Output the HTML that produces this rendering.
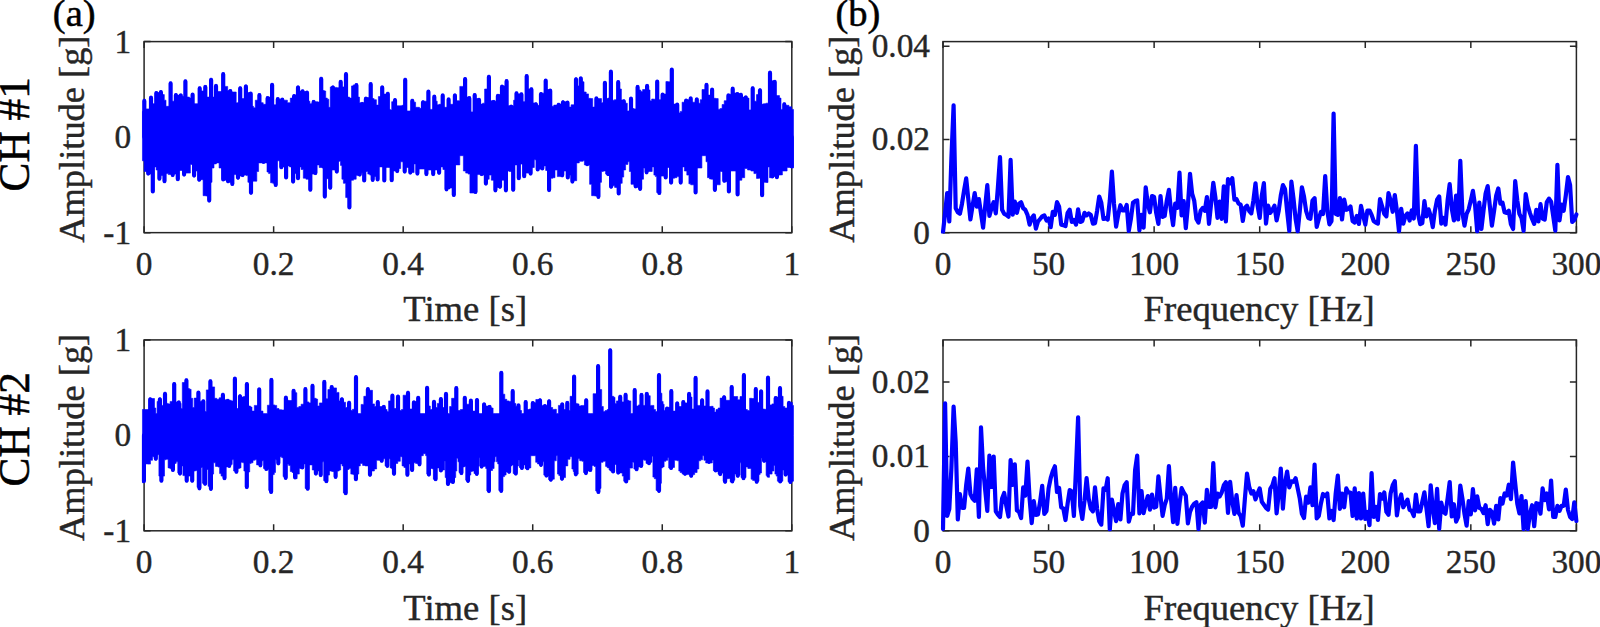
<!DOCTYPE html>
<html><head><meta charset="utf-8"><title>Figure</title>
<style>html,body{margin:0;padding:0;background:#fff}svg{display:block}text{font-family:"Liberation Serif",serif}</style></head><body>
<svg width="1600" height="627" viewBox="0 0 1600 627">
<rect width="1600" height="627" fill="#fff"/>
<g fill="#262626" stroke="#262626" stroke-width="0.4">
<g id="a1">
<clipPath id="ca1"><rect x="141.60" y="40.60" width="652.70" height="192.85"/></clipPath>
<rect x="144.10" y="41.60" width="647.70" height="191.05" fill="none" stroke="#262626" stroke-width="1.5"/>
<path d="M144.10 232.65v-6.5M144.10 41.60v6.5M273.64 232.65v-6.5M273.64 41.60v6.5M403.18 232.65v-6.5M403.18 41.60v6.5M532.72 232.65v-6.5M532.72 41.60v6.5M662.26 232.65v-6.5M662.26 41.60v6.5M791.80 232.65v-6.5M791.80 41.60v6.5M144.10 232.65h6.5M791.80 232.65h-6.5M144.10 137.12h6.5M791.80 137.12h-6.5M144.10 41.60h6.5M791.80 41.60h-6.5" stroke="#262626" stroke-width="1.5" fill="none"/>
<text x="144.10" y="275.30" font-size="33.33" text-anchor="middle">0</text>
<text x="273.64" y="275.30" font-size="33.33" text-anchor="middle">0.2</text>
<text x="403.18" y="275.30" font-size="33.33" text-anchor="middle">0.4</text>
<text x="532.72" y="275.30" font-size="33.33" text-anchor="middle">0.6</text>
<text x="662.26" y="275.30" font-size="33.33" text-anchor="middle">0.8</text>
<text x="791.80" y="275.30" font-size="33.33" text-anchor="middle">1</text>
<text x="131.10" y="243.65" font-size="33.33" text-anchor="end">-1</text>
<text x="131.10" y="148.12" font-size="33.33" text-anchor="end">0</text>
<text x="131.10" y="52.60" font-size="33.33" text-anchor="end">1</text>
<text x="465.25" y="321.35" font-size="36.67" text-anchor="middle">Time [s]</text>
<text transform="translate(84.20 139.12) rotate(-90)" font-size="36.4" text-anchor="middle">Amplitude [g]</text>
<polygon clip-path="url(#ca1)" points="142.4,137.1 142.4,111.4 143.3,111.4 143.3,99.2 145.3,99.2 145.3,108.9 150.0,108.9 150.0,96.1 152.0,96.1 152.0,103.7 155.3,103.7 155.3,91.5 157.3,91.5 157.3,92.5 159.9,92.5 159.9,90.5 161.9,90.5 161.9,94.6 164.3,94.6 164.3,100.2 166.0,100.2 166.0,106.3 169.6,106.3 169.6,81.8 171.6,81.8 171.6,101.2 174.9,101.2 174.9,93.5 176.9,93.5 176.9,95.1 179.8,95.1 179.8,93.9 181.8,93.9 181.8,96.6 184.4,96.6 184.4,79.8 186.4,79.8 186.4,97.1 189.5,97.1 189.5,98.1 191.6,98.1 191.6,93.0 193.6,93.0 193.6,103.7 198.7,103.7 198.7,86.7 200.7,86.7 200.7,91.0 204.3,91.0 204.3,85.4 206.3,85.4 206.3,97.1 210.1,97.1 210.1,78.2 212.1,78.2 212.1,97.1 215.0,97.1 215.0,84.4 217.0,84.4 217.0,91.5 222.2,91.5 222.2,72.6 224.2,72.6 224.2,86.4 227.7,86.4 227.7,90.5 229.4,90.5 229.4,89.5 231.3,89.5 231.3,92.0 233.8,92.0 233.8,92.0 236.2,92.0 236.2,102.7 239.2,102.7 239.2,86.7 241.2,86.7 241.2,98.6 244.9,98.6 244.9,84.9 246.9,84.9 246.9,92.5 249.7,92.5 249.7,92.0 251.7,92.0 251.7,106.3 253.5,106.3 253.5,107.8 255.3,107.8 255.3,100.2 258.4,100.2 258.4,93.5 260.4,93.5 260.4,102.7 263.2,102.7 263.2,104.3 266.6,104.3 266.6,96.6 268.6,96.6 268.6,97.1 271.1,97.1 271.1,83.3 273.1,83.3 273.1,104.8 276.8,104.8 276.8,97.6 278.8,97.6 278.8,99.2 281.3,99.2 281.3,98.1 283.3,98.1 283.3,100.2 287.4,100.2 287.4,102.7 290.3,102.7 290.3,98.1 293.1,98.1 293.1,94.6 295.1,94.6 295.1,95.1 297.1,95.1 297.1,85.9 299.0,85.9 299.0,91.0 301.6,91.0 301.6,89.8 303.6,89.8 303.6,91.5 306.0,91.5 306.0,91.0 308.0,91.0 308.0,101.2 309.9,101.2 309.9,103.7 312.6,103.7 312.6,100.4 314.6,100.4 314.6,101.7 317.8,101.7 317.8,102.0 320.2,102.0 320.2,77.2 322.2,77.2 322.2,90.5 324.3,90.5 324.3,91.0 325.7,91.0 325.7,98.1 327.3,98.1 327.3,99.2 328.8,99.2 328.8,107.3 330.3,107.3 330.3,86.9 332.1,86.9 332.1,85.9 333.9,85.9 333.9,87.4 336.9,87.4 336.9,87.7 339.7,87.7 339.7,80.3 341.7,80.3 341.7,86.9 345.0,86.9 345.0,72.6 347.0,72.6 347.0,97.1 349.6,97.1 349.6,98.1 351.5,98.1 351.5,85.9 353.2,85.9 353.2,84.9 355.4,84.9 355.4,83.6 357.4,83.6 357.4,97.1 359.5,97.1 359.5,102.7 361.4,102.7 361.4,102.4 363.1,102.4 363.1,103.2 364.9,103.2 364.9,97.1 366.9,97.1 366.9,97.6 369.7,97.6 369.7,82.6 371.7,82.6 371.7,98.6 374.1,98.6 374.1,99.7 376.4,99.7 376.4,105.1 378.4,105.1 378.4,96.6 381.2,96.6 381.2,85.9 383.2,85.9 383.2,94.1 386.8,94.1 386.8,92.2 388.8,92.2 388.8,109.4 390.5,109.4 390.5,109.9 391.7,109.9 391.7,101.7 394.0,101.7 394.0,98.6 396.0,98.6 396.0,105.8 399.3,105.8 399.3,105.8 401.9,105.8 401.9,105.3 404.2,105.3 404.2,78.2 406.2,78.2 406.2,110.9 408.5,110.9 408.5,110.9 411.3,110.9 411.3,99.2 413.3,99.2 413.3,102.2 415.6,102.2 415.6,107.3 417.4,107.3 417.4,107.3 419.5,107.3 419.5,108.3 422.0,108.3 422.0,100.7 424.0,100.7 424.0,101.2 427.4,101.2 427.4,90.0 429.4,90.0 429.4,109.4 433.3,109.4 433.3,95.1 435.3,95.1 435.3,101.2 437.2,101.2 437.2,104.8 438.9,104.8 438.9,104.3 441.7,104.3 441.7,93.9 443.7,93.9 443.7,107.3 447.6,107.3 447.6,97.9 449.6,97.9 449.6,104.3 451.8,104.3 451.8,104.3 453.9,104.3 453.9,93.9 455.9,93.9 455.9,100.7 459.8,100.7 459.8,86.4 464.1,86.4 464.1,77.5 466.1,77.5 466.1,97.1 468.3,97.1 468.3,96.6 470.3,96.6 470.3,111.9 473.7,111.9 473.7,93.5 475.7,93.5 475.7,98.6 478.0,98.6 478.0,98.3 480.0,98.3 480.0,104.1 482.6,104.1 482.6,103.2 484.6,103.2 484.6,89.0 487.9,89.0 487.9,75.2 489.9,75.2 489.9,100.7 492.6,100.7 492.6,100.4 494.6,100.4 494.6,101.2 496.9,101.2 496.9,94.3 498.8,94.3 498.8,94.6 501.0,94.6 501.0,85.1 503.0,85.1 503.0,85.9 505.6,85.9 505.6,79.6 507.6,79.6 507.6,105.8 510.2,105.8 510.2,105.1 512.1,105.1 512.1,105.8 513.6,105.8 513.6,100.2 515.5,100.2 515.5,91.8 517.5,91.8 517.5,93.9 520.4,93.9 520.4,92.8 522.4,92.8 522.4,101.7 525.7,101.7 525.7,74.5 527.7,74.5 527.7,89.0 530.4,89.0 530.4,87.7 532.4,87.7 532.4,103.0 534.9,103.0 534.9,102.7 536.9,102.7 536.9,105.3 540.0,105.3 540.0,92.5 542.0,92.5 542.0,93.2 544.7,93.2 544.7,79.0 546.7,79.0 546.7,89.5 549.2,89.5 549.2,89.0 551.2,89.0 551.2,106.3 553.8,106.3 553.8,105.1 557.6,105.1 557.6,103.2 559.6,103.2 559.6,104.1 562.0,104.1 562.0,100.7 564.0,100.7 564.0,101.7 566.5,101.7 566.5,101.0 568.5,101.0 568.5,107.1 571.1,107.1 571.1,104.8 575.0,104.8 575.0,77.7 577.0,77.7 577.0,85.9 579.8,85.9 579.8,76.9 581.8,76.9 581.8,81.8 584.0,81.8 584.0,92.0 586.2,92.0 586.2,93.9 588.5,93.9 588.5,98.3 590.5,98.3 590.5,98.6 592.7,98.6 592.7,107.1 595.4,107.1 595.4,96.9 597.4,96.9 597.4,98.6 599.7,98.6 599.7,98.6 601.5,98.6 601.5,102.7 603.9,102.7 603.9,81.3 605.9,81.3 605.9,98.6 607.8,98.6 607.8,98.1 609.9,98.1 609.9,70.1 611.9,70.1 611.9,100.2 614.4,100.2 614.4,99.7 617.2,99.7 617.2,80.6 619.2,80.6 619.2,89.0 621.4,89.0 621.4,100.0 622.9,100.0 622.9,99.7 624.8,99.7 624.8,103.2 627.3,103.2 627.3,110.9 630.0,110.9 630.0,97.1 632.0,97.1 632.0,108.5 634.1,108.5 634.1,108.9 636.6,108.9 636.6,85.4 638.6,85.4 638.6,90.0 640.8,90.0 640.8,91.5 642.6,91.5 642.6,89.5 646.1,89.5 646.1,84.4 648.1,84.4 648.1,90.0 650.0,90.0 650.0,100.7 651.7,100.7 651.7,99.0 653.7,99.0 653.7,99.2 656.2,99.2 656.2,80.0 658.2,80.0 658.2,99.7 661.6,99.7 661.6,93.0 663.6,93.0 663.6,94.1 665.9,94.1 665.9,81.6 668.2,81.6 668.2,81.8 670.8,81.8 670.8,68.0 672.8,68.0 672.8,104.1 676.2,104.1 676.2,103.0 678.2,103.0 678.2,112.9 680.2,112.9 680.2,111.4 682.1,111.4 682.1,102.2 685.1,102.2 685.1,99.0 687.1,99.0 687.1,99.7 689.7,99.7 689.7,96.9 691.7,96.9 691.7,102.2 695.8,102.2 695.8,97.9 697.8,97.9 697.8,103.2 700.2,103.2 700.2,99.7 702.0,99.7 702.0,89.5 705.5,89.5 705.5,83.3 707.5,83.3 707.5,95.1 711.1,95.1 711.1,88.1 713.1,88.1 713.1,98.3 715.8,98.3 715.8,98.6 718.2,98.6 718.2,109.2 720.2,109.2 720.2,108.5 722.1,108.5 722.1,104.5 724.2,104.5 724.2,100.7 727.4,100.7 727.4,93.9 729.4,93.9 729.4,94.3 731.7,94.3 731.7,87.1 733.7,87.1 733.7,93.0 736.4,93.0 736.4,92.5 738.3,92.5 738.3,93.5 740.0,93.5 740.0,93.2 741.9,93.2 741.9,97.1 744.8,97.1 744.8,95.9 746.8,95.9 746.8,98.1 749.0,98.1 749.0,109.9 751.7,109.9 751.7,86.7 753.7,86.7 753.7,101.2 756.5,101.2 756.5,94.6 759.0,94.6 759.0,88.7 761.0,88.7 761.0,104.3 762.4,104.3 762.4,104.1 763.6,104.1 763.6,103.7 764.9,103.7 764.9,103.7 765.9,103.7 765.9,103.2 769.0,103.2 769.0,71.1 771.0,71.1 771.0,80.8 773.7,80.8 773.7,80.3 775.7,80.3 775.7,95.6 777.7,95.6 777.7,95.6 779.5,95.6 779.5,98.1 781.0,98.1 781.0,109.4 783.3,109.4 783.3,102.7 785.3,102.7 785.3,105.3 788.9,105.3 788.9,106.8 791.7,106.8 791.7,109.4 793.5,109.4 793.5,137.1 793.5,168.0 790.7,168.0 790.7,167.5 787.1,167.5 787.1,171.0 784.8,171.0 784.8,171.0 782.4,171.0 782.4,174.9 780.1,174.9 780.1,175.1 777.9,175.1 777.9,178.7 775.9,178.7 775.9,176.6 773.3,176.6 773.3,178.0 771.3,178.0 771.3,177.7 769.5,177.7 769.5,166.9 768.0,166.9 768.0,182.5 765.6,182.5 765.6,182.3 763.1,182.3 763.1,196.7 761.1,196.7 761.1,178.2 758.7,178.2 758.7,178.4 756.5,178.4 756.5,173.6 753.9,173.6 753.9,171.0 750.9,171.0 750.9,170.0 747.5,170.0 747.5,168.5 744.7,168.5 744.7,177.7 741.9,177.7 741.9,180.2 738.6,180.2 738.6,196.0 736.6,196.0 736.6,171.0 733.3,171.0 733.3,171.0 729.9,171.0 729.9,193.0 727.9,193.0 727.9,181.7 725.3,181.7 725.3,182.3 723.3,182.3 723.3,171.5 720.2,171.5 720.2,184.8 718.2,184.8 718.2,184.8 715.9,184.8 715.9,191.4 713.9,191.4 713.9,179.2 711.3,179.2 711.3,179.0 709.5,179.0 709.5,177.7 707.5,177.7 707.5,161.8 706.0,161.8 706.0,155.7 704.2,155.7 704.2,155.7 701.9,155.7 701.9,168.0 699.6,168.0 699.6,168.0 696.6,168.0 696.6,194.0 694.6,194.0 694.6,184.8 690.7,184.8 690.7,183.8 688.9,183.8 688.9,175.1 686.8,175.1 686.8,171.0 684.4,171.0 684.4,166.9 681.7,166.9 681.7,184.1 679.7,184.1 679.7,176.6 676.9,176.6 676.9,177.7 674.7,177.7 674.7,178.2 672.1,178.2 672.1,184.1 670.1,184.1 670.1,167.5 666.7,167.5 666.7,179.0 664.7,179.0 664.7,176.1 660.3,176.1 660.3,194.5 658.3,194.5 658.3,192.5 656.7,192.5 656.7,176.6 655.4,176.6 655.4,175.1 653.9,175.1 653.9,166.9 652.2,166.9 652.2,171.5 649.9,171.5 649.9,171.5 647.6,171.5 647.6,173.9 645.6,173.9 645.6,168.0 643.5,168.0 643.5,179.2 641.1,179.2 641.1,190.4 639.1,190.4 639.1,187.4 636.6,187.4 636.6,187.9 634.6,187.9 634.6,184.3 631.0,184.3 631.0,171.5 629.4,171.5 629.4,161.8 627.9,161.8 627.9,164.4 625.6,164.4 625.6,170.0 623.7,170.0 623.7,177.1 622.2,177.1 622.2,183.3 619.7,183.3 619.7,195.0 617.7,195.0 617.7,187.4 614.6,187.4 614.6,185.8 612.1,185.8 612.1,188.2 610.1,188.2 610.1,175.1 608.3,175.1 608.3,175.6 607.3,175.6 607.3,174.1 605.6,174.1 605.6,171.0 603.3,171.0 603.3,171.5 601.5,171.5 601.5,182.3 599.4,182.3 599.4,198.4 597.4,198.4 597.4,196.0 594.6,196.0 594.6,195.7 591.6,195.7 591.6,184.3 589.6,184.3 589.6,164.9 588.2,164.9 588.2,165.7 586.2,165.7 586.2,164.9 584.4,164.9 584.4,160.8 582.9,160.8 582.9,161.3 579.3,161.3 579.3,162.9 576.7,162.9 576.7,180.7 573.4,180.7 573.4,183.1 571.4,183.1 571.4,175.1 568.8,175.1 568.8,179.0 566.8,179.0 566.8,171.0 563.2,171.0 563.2,176.9 561.2,176.9 561.2,176.6 557.3,176.6 557.3,170.0 555.0,170.0 555.0,177.7 553.0,177.7 553.0,178.2 550.1,178.2 550.1,191.6 548.1,191.6 548.1,170.5 545.7,170.5 545.7,165.9 543.3,165.9 543.3,170.0 541.3,170.0 541.3,169.0 538.7,169.0 538.7,171.0 536.7,171.0 536.7,159.8 534.3,159.8 534.3,167.5 531.6,167.5 531.6,175.1 529.6,175.1 529.6,173.1 525.2,173.1 525.2,177.7 523.2,177.7 523.2,164.1 519.8,164.1 519.8,179.7 517.8,179.7 517.8,164.9 514.2,164.9 514.2,191.2 512.2,191.2 512.2,171.5 509.2,171.5 509.2,171.0 506.9,171.0 506.9,191.9 504.9,191.9 504.9,180.2 501.0,180.2 501.0,188.2 499.0,188.2 499.0,187.4 496.4,187.4 496.4,191.9 494.4,191.9 494.4,180.2 491.3,180.2 491.3,175.1 489.2,175.1 489.2,179.2 486.9,179.2 486.9,185.1 484.9,185.1 484.9,175.1 482.6,175.1 482.6,175.6 480.6,175.6 480.6,174.6 476.5,174.6 476.5,193.5 474.5,193.5 474.5,193.0 469.9,193.0 469.9,174.1 468.1,174.1 468.1,173.1 465.7,173.1 465.7,171.0 463.4,171.0 463.4,155.7 461.8,155.7 461.8,155.7 459.8,155.7 459.8,164.9 457.5,164.9 457.5,164.9 454.8,164.9 454.8,196.5 452.8,196.5 452.8,187.9 450.0,187.9 450.0,188.9 447.5,188.9 447.5,190.9 445.5,190.9 445.5,169.5 442.9,169.5 442.9,166.9 440.1,166.9 440.1,174.3 438.1,174.3 438.1,170.0 434.2,170.0 434.2,175.6 432.2,175.6 432.2,170.0 427.4,170.0 427.4,175.6 425.4,175.6 425.4,169.0 421.8,169.0 421.8,169.0 418.4,169.0 418.4,175.1 416.4,175.1 416.4,163.9 414.1,163.9 414.1,172.6 411.3,172.6 411.3,174.1 409.3,174.1 409.3,167.5 405.7,167.5 405.7,173.1 403.7,173.1 403.7,161.8 400.7,161.8 400.7,168.5 398.2,168.5 398.2,172.6 396.2,172.6 396.2,171.0 392.7,171.0 392.7,181.7 390.7,181.7 390.7,167.5 387.8,167.5 387.8,167.5 385.3,167.5 385.3,182.0 383.3,182.0 383.3,166.9 380.9,166.9 380.9,166.9 378.6,166.9 378.6,181.0 376.6,181.0 376.6,176.6 373.7,176.6 373.7,181.4 371.7,181.4 371.7,175.1 369.7,175.1 369.7,174.1 367.8,174.1 367.8,171.5 365.2,171.5 365.2,182.0 363.2,182.0 363.2,172.6 360.6,172.6 360.6,176.1 358.8,176.1 358.8,175.6 356.2,175.6 356.2,179.2 353.6,179.2 353.6,180.2 350.4,180.2 350.4,209.0 348.4,209.0 348.4,197.6 345.7,197.6 345.7,183.3 343.4,183.3 343.4,179.2 341.9,179.2 341.9,165.4 340.5,165.4 340.5,161.3 337.8,161.3 337.8,173.1 335.8,173.1 335.8,170.0 331.2,170.0 331.2,189.2 329.2,189.2 329.2,178.7 325.8,178.7 325.8,198.1 323.8,198.1 323.8,168.0 321.9,168.0 321.9,167.5 319.2,167.5 319.2,164.9 316.4,164.9 316.4,174.6 314.4,174.6 314.4,174.1 311.3,174.1 311.3,191.2 309.3,191.2 309.3,179.2 305.9,179.2 305.9,178.2 303.3,178.2 303.3,169.5 301.1,169.5 301.1,166.9 299.0,166.9 299.0,179.7 297.0,179.7 297.0,173.6 294.1,173.6 294.1,183.1 292.1,183.1 292.1,166.9 289.5,166.9 289.5,165.9 287.1,165.9 287.1,179.0 285.1,179.0 285.1,166.9 282.3,166.9 282.3,168.8 280.3,168.8 280.3,160.8 276.7,160.8 276.7,186.5 274.7,186.5 274.7,183.3 272.7,183.3 272.7,182.8 270.6,182.8 270.6,173.6 268.6,173.6 268.6,172.0 267.0,172.0 267.0,162.9 264.5,162.9 264.5,163.4 262.5,163.4 262.5,162.9 258.6,162.9 258.6,171.5 256.8,171.5 256.8,181.2 254.5,181.2 254.5,181.2 252.0,181.2 252.0,194.3 250.0,194.3 250.0,182.3 247.9,182.3 247.9,175.6 246.1,175.6 246.1,175.1 243.6,175.1 243.6,176.6 241.6,176.6 241.6,176.1 239.0,176.1 239.0,179.2 237.0,179.2 237.0,174.6 233.3,174.6 233.3,185.5 231.3,185.5 231.3,182.3 229.0,182.3 229.0,182.8 227.0,182.8 227.0,180.2 224.2,180.2 224.2,181.0 222.2,181.0 222.2,168.0 219.1,168.0 219.1,162.9 216.4,162.9 216.4,163.9 214.0,163.9 214.0,168.0 212.0,168.0 212.0,182.3 210.2,182.3 210.2,202.1 208.2,202.1 208.2,196.0 205.7,196.0 205.7,195.7 203.1,195.7 203.1,179.7 200.2,179.7 200.2,181.2 198.2,181.2 198.2,171.0 195.1,171.0 195.1,177.1 193.1,177.1 193.1,164.4 190.4,164.4 190.4,173.1 188.1,173.1 188.1,173.1 185.1,173.1 185.1,176.1 183.1,176.1 183.1,170.5 178.8,170.5 178.8,180.7 176.8,180.7 176.8,174.1 173.7,174.1 173.7,176.6 171.7,176.6 171.7,174.6 168.3,174.6 168.3,173.6 165.5,173.6 165.5,182.8 163.5,182.8 163.5,175.6 160.4,175.6 160.4,180.2 158.4,180.2 158.4,170.0 156.1,170.0 156.1,166.9 153.8,166.9 153.8,193.0 151.8,193.0 151.8,174.1 149.2,174.1 149.2,175.1 147.2,175.1 147.2,171.5 144.1,171.5 144.1,160.8 142.4,160.8" fill="#0000ff" stroke="#0000ff" stroke-width="0.6" stroke-linejoin="round"/>
<path clip-path="url(#ca1)" d="M144.3 137.1V101.0M148.2 137.1V173.3M151.0 137.1V97.9M152.8 137.1V191.2M156.3 137.1V93.3M159.4 137.1V178.4M160.9 137.1V92.3M164.5 137.1V181.0M170.6 137.1V83.6M172.7 137.1V174.8M175.9 137.1V95.3M177.8 137.1V178.9M180.8 137.1V95.7M184.1 137.1V174.3M185.4 137.1V81.6M192.6 137.1V94.8M194.1 137.1V175.3M199.2 137.1V179.4M199.7 137.1V88.5M205.3 137.1V87.2M209.2 137.1V200.3M211.1 137.1V80.0M216.0 137.1V86.2M223.2 137.1V74.4M223.2 137.1V179.2M228.0 137.1V181.0M230.3 137.1V91.3M232.3 137.1V183.7M238.0 137.1V177.4M240.2 137.1V88.5M242.6 137.1V174.8M245.9 137.1V86.7M250.7 137.1V93.8M251.0 137.1V192.5M259.4 137.1V95.3M263.5 137.1V161.6M267.6 137.1V98.4M272.1 137.1V85.1M275.7 137.1V184.7M277.8 137.1V99.4M281.3 137.1V167.0M282.3 137.1V99.9M286.1 137.1V177.2M293.1 137.1V181.3M294.1 137.1V96.4M298.0 137.1V87.7M298.0 137.1V177.9M302.6 137.1V91.6M307.0 137.1V92.8M310.3 137.1V189.4M313.6 137.1V102.2M315.4 137.1V172.8M321.2 137.1V79.0M324.8 137.1V196.3M330.2 137.1V187.4M332.9 137.1V87.7M336.8 137.1V171.3M340.7 137.1V82.1M346.0 137.1V74.4M349.4 137.1V207.2M356.4 137.1V85.4M359.8 137.1V174.3M362.3 137.1V104.2M364.2 137.1V180.2M365.9 137.1V98.9M370.7 137.1V84.4M372.7 137.1V179.6M377.6 137.1V179.2M382.2 137.1V87.7M384.3 137.1V180.2M387.8 137.1V94.0M391.7 137.1V179.9M395.0 137.1V100.4M397.2 137.1V170.8M404.7 137.1V171.3M405.2 137.1V80.0M410.3 137.1V172.3M412.3 137.1V101.0M417.4 137.1V173.3M423.0 137.1V102.5M426.4 137.1V173.8M428.4 137.1V91.8M433.2 137.1V173.8M434.3 137.1V96.9M439.1 137.1V172.5M442.7 137.1V95.7M446.5 137.1V189.1M448.6 137.1V99.7M453.8 137.1V194.7M454.9 137.1V95.7M465.1 137.1V79.3M469.3 137.1V98.4M474.7 137.1V95.3M475.5 137.1V191.7M479.0 137.1V100.1M481.6 137.1V173.8M485.9 137.1V183.3M488.9 137.1V77.0M493.6 137.1V102.2M495.4 137.1V190.1M497.9 137.1V96.1M500.0 137.1V186.4M502.0 137.1V86.9M505.9 137.1V190.1M506.6 137.1V81.4M511.2 137.1V106.9M513.2 137.1V189.4M516.5 137.1V93.6M518.8 137.1V177.9M521.4 137.1V94.6M524.2 137.1V175.9M526.7 137.1V76.3M530.6 137.1V173.3M531.4 137.1V89.5M535.9 137.1V104.5M537.7 137.1V169.2M541.0 137.1V94.3M542.3 137.1V168.2M545.7 137.1V80.8M549.1 137.1V189.8M550.2 137.1V90.8M558.6 137.1V105.0M562.2 137.1V175.1M563.0 137.1V102.5M567.5 137.1V102.8M567.8 137.1V177.2M572.4 137.1V181.3M576.0 137.1V79.5M580.8 137.1V78.7M587.2 137.1V163.9M596.4 137.1V98.7M598.4 137.1V196.6M604.9 137.1V83.1M608.0 137.1V173.8M610.9 137.1V71.9M611.1 137.1V186.4M618.2 137.1V82.4M618.7 137.1V193.2M623.8 137.1V101.5M631.0 137.1V98.9M635.6 137.1V186.1M637.6 137.1V87.2M640.1 137.1V188.6M646.6 137.1V172.1M647.1 137.1V86.2M657.2 137.1V81.8M659.3 137.1V192.7M662.6 137.1V94.8M665.7 137.1V177.2M671.1 137.1V182.3M671.8 137.1V69.8M677.2 137.1V104.8M680.7 137.1V182.3M686.1 137.1V100.8M690.7 137.1V98.7M695.6 137.1V192.2M696.8 137.1V99.7M706.5 137.1V85.1M712.1 137.1V89.9M714.9 137.1V189.6M724.3 137.1V180.5M728.4 137.1V95.7M728.9 137.1V191.2M732.7 137.1V88.9M737.4 137.1V94.3M737.6 137.1V194.2M740.9 137.1V95.0M745.8 137.1V97.7M752.7 137.1V88.5M760.0 137.1V90.5M762.1 137.1V194.9M770.0 137.1V72.9M772.3 137.1V176.2M774.7 137.1V82.1M776.9 137.1V176.9M784.3 137.1V104.5M791.7 137.1V166.2" fill="none" stroke="#0000ff" stroke-width="4.2" stroke-linecap="round"/>
</g>
<g id="a2">
<clipPath id="ca2"><rect x="141.60" y="338.90" width="652.70" height="192.70"/></clipPath>
<rect x="144.10" y="339.90" width="647.70" height="190.90" fill="none" stroke="#262626" stroke-width="1.5"/>
<path d="M144.10 530.80v-6.5M144.10 339.90v6.5M273.64 530.80v-6.5M273.64 339.90v6.5M403.18 530.80v-6.5M403.18 339.90v6.5M532.72 530.80v-6.5M532.72 339.90v6.5M662.26 530.80v-6.5M662.26 339.90v6.5M791.80 530.80v-6.5M791.80 339.90v6.5M144.10 530.80h6.5M791.80 530.80h-6.5M144.10 435.35h6.5M791.80 435.35h-6.5M144.10 339.90h6.5M791.80 339.90h-6.5" stroke="#262626" stroke-width="1.5" fill="none"/>
<text x="144.10" y="573.45" font-size="33.33" text-anchor="middle">0</text>
<text x="273.64" y="573.45" font-size="33.33" text-anchor="middle">0.2</text>
<text x="403.18" y="573.45" font-size="33.33" text-anchor="middle">0.4</text>
<text x="532.72" y="573.45" font-size="33.33" text-anchor="middle">0.6</text>
<text x="662.26" y="573.45" font-size="33.33" text-anchor="middle">0.8</text>
<text x="791.80" y="573.45" font-size="33.33" text-anchor="middle">1</text>
<text x="131.10" y="541.80" font-size="33.33" text-anchor="end">-1</text>
<text x="131.10" y="446.35" font-size="33.33" text-anchor="end">0</text>
<text x="131.10" y="350.90" font-size="33.33" text-anchor="end">1</text>
<text x="465.25" y="619.50" font-size="36.67" text-anchor="middle">Time [s]</text>
<text transform="translate(84.20 437.35) rotate(-90)" font-size="36.4" text-anchor="middle">Amplitude [g]</text>
<polygon clip-path="url(#ca2)" points="142.4,435.4 142.4,409.5 149.2,409.5 149.2,397.8 151.2,397.8 151.2,398.5 154.5,398.5 154.5,408.0 155.8,408.0 155.8,413.6 157.1,413.6 157.1,401.4 158.9,401.4 158.9,397.8 160.9,397.8 160.9,405.4 164.0,405.4 164.0,392.2 166.0,392.2 166.0,403.4 168.3,403.4 168.3,403.9 170.1,403.9 170.1,401.4 173.2,401.4 173.2,382.5 175.2,382.5 175.2,401.9 177.8,401.9 177.8,400.9 179.8,400.9 179.8,403.4 181.1,403.4 181.1,408.5 182.3,408.5 182.3,382.5 185.4,382.5 185.4,378.7 187.4,378.7 187.4,388.6 189.5,388.6 189.5,389.3 191.1,389.3 191.1,398.3 192.7,398.3 192.7,407.5 194.2,407.5 194.2,398.1 197.4,398.1 197.4,391.0 199.4,391.0 199.4,401.4 202.3,401.4 202.3,399.8 204.3,399.8 204.3,411.6 206.3,411.6 206.3,389.9 209.4,389.9 209.4,379.7 211.4,379.7 211.4,386.9 214.6,386.9 214.6,398.3 216.8,398.3 216.8,399.3 219.1,399.3 219.1,397.8 221.9,397.8 221.9,393.2 223.9,393.2 223.9,399.8 226.8,399.8 226.8,399.3 228.8,399.3 228.8,400.3 231.3,400.3 231.3,400.9 233.9,400.9 233.9,377.1 235.9,377.1 235.9,408.5 239.0,408.5 239.0,394.7 241.0,394.7 241.0,397.1 243.4,397.1 243.4,396.5 245.9,396.5 245.9,382.5 247.9,382.5 247.9,406.0 250.5,406.0 250.5,407.0 252.0,407.0 252.0,411.1 254.3,411.1 254.3,405.4 258.2,405.4 258.2,387.9 260.2,387.9 260.2,411.1 263.0,411.1 263.0,413.6 265.3,413.6 265.3,413.6 267.4,413.6 267.4,405.2 270.4,405.2 270.4,378.4 272.4,378.4 272.4,404.9 274.8,404.9 274.8,405.4 276.7,405.4 276.7,408.5 279.0,408.5 279.0,409.7 281.6,409.7 281.6,410.0 284.9,410.0 284.9,396.1 286.9,396.1 286.9,400.3 289.2,400.3 289.2,400.5 292.6,400.5 292.6,389.3 294.6,389.3 294.6,392.7 296.8,392.7 296.8,407.5 298.8,407.5 298.8,406.5 301.1,406.5 301.1,404.2 304.4,404.2 304.4,387.6 306.4,387.6 306.4,401.9 308.9,401.9 308.9,402.9 311.5,402.9 311.5,384.2 313.5,384.2 313.5,398.3 316.2,398.3 316.2,399.1 317.6,399.1 317.6,406.0 319.4,406.0 319.4,402.9 323.3,402.9 323.3,380.4 325.3,380.4 325.3,398.8 327.9,398.8 327.9,389.6 330.7,389.6 330.7,385.5 332.7,385.5 332.7,387.9 336.5,387.9 336.5,392.4 339.0,392.4 339.0,400.9 340.9,400.9 340.9,397.8 342.9,397.8 342.9,402.2 345.6,402.2 345.6,407.5 348.1,407.5 348.1,401.2 350.1,401.2 350.1,410.5 352.4,410.5 352.4,409.3 355.0,409.3 355.0,375.6 357.0,375.6 357.0,413.6 361.1,413.6 361.1,404.4 363.8,404.4 363.8,396.3 366.9,396.3 366.9,387.6 368.9,387.6 368.9,390.3 372.5,390.3 372.5,403.9 374.5,403.9 374.5,406.5 376.8,406.5 376.8,400.5 378.8,400.5 378.8,406.5 382.8,406.5 382.8,405.4 384.8,405.4 384.8,409.5 387.1,409.5 387.1,411.6 388.6,411.6 388.6,400.9 391.4,400.9 391.4,394.0 393.4,394.0 393.4,408.5 397.0,408.5 397.0,395.0 399.0,395.0 399.0,410.5 401.4,410.5 401.4,409.5 403.1,409.5 403.1,395.2 407.0,395.2 407.0,391.2 409.0,391.2 409.0,409.0 412.9,409.0 412.9,400.9 414.9,400.9 414.9,401.4 417.2,401.4 417.2,396.3 419.2,396.3 419.2,413.6 421.9,413.6 421.9,413.6 426.1,413.6 426.1,386.3 428.1,386.3 428.1,406.0 430.3,406.0 430.3,409.5 433.0,409.5 433.0,400.3 435.0,400.3 435.0,407.5 437.3,407.5 437.3,403.4 439.9,403.4 439.9,397.5 441.9,397.5 441.9,407.5 445.0,407.5 445.0,392.4 447.0,392.4 447.0,413.6 449.6,413.6 449.6,406.5 451.6,406.5 451.6,398.3 452.7,398.3 452.7,398.3 455.3,398.3 455.3,386.6 457.3,386.6 457.3,410.5 460.3,410.5 460.3,409.5 463.8,409.5 463.8,396.3 465.8,396.3 465.8,404.2 469.9,404.2 469.9,399.1 471.9,399.1 471.9,411.1 476.0,411.1 476.0,398.5 478.0,398.5 478.0,413.6 480.4,413.6 480.4,413.6 483.1,413.6 483.1,402.9 485.1,402.9 485.1,406.0 488.6,406.0 488.6,405.4 490.6,405.4 490.6,408.0 493.1,408.0 493.1,413.6 495.4,413.6 495.4,413.6 500.3,413.6 500.3,371.3 502.3,371.3 502.3,394.2 504.8,394.2 504.8,399.3 506.8,399.3 506.8,400.9 509.1,400.9 509.1,401.4 511.7,401.4 511.7,389.6 513.7,389.6 513.7,403.4 515.9,403.4 515.9,406.5 517.5,406.5 517.5,403.9 519.5,403.9 519.5,410.5 521.6,410.5 521.6,413.6 524.7,413.6 524.7,400.5 526.7,400.5 526.7,409.5 529.3,409.5 529.3,409.0 531.8,409.0 531.8,401.6 533.8,401.6 533.8,402.4 535.8,402.4 535.8,399.5 539.0,399.5 539.0,398.8 541.0,398.8 541.0,405.4 543.9,405.4 543.9,404.6 545.9,404.6 545.9,405.4 548.1,405.4 548.1,399.8 550.1,399.8 550.1,407.5 552.7,407.5 552.7,409.5 554.4,409.5 554.4,409.3 556.4,409.3 556.4,413.6 558.4,413.6 558.4,405.4 561.2,405.4 561.2,402.9 563.2,402.9 563.2,409.5 566.3,409.5 566.3,401.4 568.3,401.4 568.3,410.5 570.1,410.5 570.1,396.3 573.1,396.3 573.1,375.0 575.1,375.0 575.1,403.4 577.4,403.4 577.4,403.9 579.0,403.9 579.0,406.0 580.8,406.0 580.8,405.6 582.4,405.6 582.4,405.4 585.2,405.4 585.2,398.8 587.2,398.8 587.2,413.6 590.3,413.6 590.3,413.6 593.1,413.6 593.1,393.7 597.1,393.7 597.1,364.6 599.1,364.6 599.1,389.6 601.7,389.6 601.7,406.5 603.3,406.5 603.3,411.6 605.1,411.6 605.1,410.5 607.1,410.5 607.1,409.5 609.2,409.5 609.2,348.8 611.2,348.8 611.2,396.3 613.7,396.3 613.7,397.3 615.0,397.3 615.0,403.4 616.4,403.4 616.4,400.9 619.2,400.9 619.2,395.2 621.2,395.2 621.2,401.9 624.6,401.9 624.6,393.2 626.6,393.2 626.6,400.3 628.9,400.3 628.9,400.9 630.8,400.9 630.8,413.6 633.7,413.6 633.7,388.6 635.7,388.6 635.7,406.0 638.4,406.0 638.4,404.9 640.5,404.9 640.5,393.4 642.5,393.4 642.5,405.4 645.8,405.4 645.8,392.4 647.8,392.4 647.8,395.7 650.2,395.7 650.2,405.4 651.9,405.4 651.9,405.4 653.9,405.4 653.9,409.5 655.6,409.5 655.6,411.6 658.0,411.6 658.0,373.6 660.0,373.6 660.0,393.2 661.9,393.2 661.9,401.4 663.1,401.4 663.1,404.2 664.1,404.2 664.1,410.5 666.0,410.5 666.0,407.0 668.0,407.0 668.0,407.3 670.3,407.3 670.3,389.6 672.3,389.6 672.3,411.1 676.2,411.1 676.2,401.9 678.2,401.9 678.2,406.5 682.3,406.5 682.3,400.5 684.3,400.5 684.3,402.9 688.1,402.9 688.1,392.4 690.1,392.4 690.1,397.1 692.0,397.1 692.0,409.0 694.6,409.0 694.6,376.4 696.6,376.4 696.6,405.4 698.8,405.4 698.8,405.4 701.1,405.4 701.1,398.8 703.1,398.8 703.1,406.0 706.5,406.0 706.5,389.9 708.5,389.9 708.5,406.5 711.1,406.5 711.1,406.3 713.1,406.3 713.1,408.0 714.5,408.0 714.5,412.1 716.0,412.1 716.0,409.5 718.1,409.5 718.1,408.0 720.1,408.0 720.1,398.1 723.1,398.1 723.1,395.7 725.1,395.7 725.1,400.3 727.5,400.3 727.5,400.3 730.7,400.3 730.7,385.5 732.7,385.5 732.7,396.5 735.4,396.5 735.4,396.5 737.7,396.5 737.7,399.8 740.0,399.8 740.0,396.5 742.9,396.5 742.9,373.6 744.9,373.6 744.9,409.5 747.4,409.5 747.4,410.5 749.6,410.5 749.6,398.3 751.9,398.3 751.9,398.5 754.8,398.5 754.8,387.6 756.8,387.6 756.8,402.4 760.1,402.4 760.1,389.9 762.1,389.9 762.1,409.0 763.7,409.0 763.7,409.0 764.5,409.0 764.5,409.3 767.0,409.3 767.0,376.1 769.0,376.1 769.0,404.9 771.9,404.9 771.9,403.9 774.7,403.9 774.7,396.5 776.7,396.5 776.7,397.1 779.0,397.1 779.0,386.6 781.0,386.6 781.0,396.3 783.1,396.3 783.1,406.5 784.8,406.5 784.8,408.0 788.0,408.0 788.0,401.4 790.0,401.4 790.0,402.4 792.4,402.4 792.4,405.4 793.5,405.4 793.5,435.4 793.5,481.2 791.3,481.2 791.3,483.5 789.4,483.5 789.4,481.7 788.0,481.7 788.0,475.1 786.6,475.1 786.6,476.1 784.6,476.1 784.6,470.0 782.8,470.0 782.8,481.2 781.2,481.2 781.2,483.0 779.2,483.0 779.2,481.2 777.4,481.2 777.4,476.1 776.2,476.1 776.2,474.1 774.9,474.1 774.9,465.4 773.9,465.4 773.9,471.0 772.1,471.0 772.1,474.1 769.5,474.1 769.5,477.3 768.0,477.3 768.0,477.1 767.0,477.1 767.0,475.6 766.1,475.6 766.1,461.8 765.0,461.8 765.0,462.3 763.1,462.3 763.1,458.3 761.5,458.3 761.5,473.0 760.1,473.0 760.1,474.6 759.0,474.6 759.0,481.2 757.7,481.2 757.7,483.3 755.7,483.3 755.7,480.4 752.6,480.4 752.6,479.2 751.1,479.2 751.1,468.5 750.1,468.5 750.1,468.5 747.8,468.5 747.8,466.9 746.0,466.9 746.0,477.6 744.5,477.6 744.5,479.7 742.5,479.7 742.5,477.6 741.0,477.6 741.0,462.8 740.1,462.8 740.1,475.1 738.8,475.1 738.8,477.3 736.8,477.3 736.8,474.1 734.8,474.1 734.8,480.2 733.3,480.2 733.3,483.0 731.4,483.0 731.4,481.7 730.2,481.7 730.2,478.4 728.7,478.4 728.7,478.7 726.1,478.7 726.1,483.3 724.2,483.3 724.2,481.2 723.1,481.2 723.1,473.0 721.2,473.0 721.2,475.6 719.3,475.6 719.3,474.1 718.1,474.1 718.1,471.5 716.7,471.5 716.7,472.0 714.7,472.0 714.7,470.8 713.4,470.8 713.4,460.3 712.3,460.3 712.3,463.0 710.0,463.0 710.0,463.4 708.0,463.4 708.0,463.0 705.7,463.0 705.7,460.3 703.9,460.3 703.9,455.7 702.6,455.7 702.6,459.8 700.6,459.8 700.6,460.8 698.8,460.8 698.8,469.0 697.1,469.0 697.1,472.5 694.7,472.5 694.7,474.6 692.2,474.6 692.2,477.3 690.2,477.3 690.2,474.6 686.0,474.6 686.0,475.3 684.0,475.3 684.0,474.1 682.1,474.1 682.1,472.5 680.2,472.5 680.2,471.0 678.8,471.0 678.8,460.8 677.1,460.8 677.1,460.3 674.5,460.3 674.5,467.4 672.1,467.4 672.1,469.5 670.1,469.5 670.1,467.9 668.7,467.9 668.7,457.7 667.8,457.7 667.8,460.3 665.9,460.3 665.9,461.3 664.1,461.3 664.1,466.9 662.6,466.9 662.6,467.9 661.4,467.9 661.4,483.3 660.0,483.3 660.0,492.4 658.0,492.4 658.0,490.4 656.1,490.4 656.1,478.7 654.4,478.7 654.4,477.1 652.9,477.1 652.9,456.2 652.0,456.2 652.0,462.3 650.0,462.3 650.0,464.7 648.0,464.7 648.0,463.4 646.0,463.4 646.0,460.3 644.2,460.3 644.2,459.8 642.2,459.8 642.2,467.4 640.2,467.4 640.2,466.9 637.6,466.9 637.6,470.8 635.6,470.8 635.6,469.0 633.9,469.0 633.9,462.3 632.5,462.3 632.5,468.1 629.8,468.1 629.8,479.7 627.2,479.7 627.2,483.0 625.2,483.0 625.2,481.2 623.7,481.2 623.7,476.1 622.3,476.1 622.3,473.0 619.2,473.0 619.2,474.1 617.2,474.1 617.2,464.4 614.1,464.4 614.1,473.0 612.1,473.0 612.1,471.0 610.1,471.0 610.1,470.0 609.1,470.0 609.1,467.9 608.3,467.9 608.3,467.7 607.1,467.7 607.1,466.4 605.6,466.4 605.6,461.3 603.1,461.3 603.1,462.3 601.0,462.3 601.0,488.4 599.4,488.4 599.4,493.5 597.4,493.5 597.4,490.9 595.7,490.9 595.7,466.4 594.0,466.4 594.0,465.4 591.3,465.4 591.3,471.5 589.3,471.5 589.3,471.0 586.9,471.0 586.9,474.6 585.0,474.6 585.0,472.5 583.6,472.5 583.6,461.3 582.1,461.3 582.1,460.8 579.7,460.8 579.7,458.8 578.2,458.8 578.2,474.1 576.8,474.1 576.8,475.9 574.9,475.9 574.9,471.5 573.2,471.5 573.2,469.0 571.9,469.0 571.9,456.7 570.1,456.7 570.1,459.3 567.8,459.3 567.8,465.9 565.5,465.9 565.5,477.6 563.0,477.6 563.0,480.2 561.0,480.2 561.0,475.6 558.8,475.6 558.8,474.1 557.5,474.1 557.5,455.7 556.3,455.7 556.3,460.8 554.3,460.8 554.3,479.2 551.8,479.2 551.8,481.2 549.9,481.2 549.9,479.7 548.7,479.7 548.7,476.1 547.4,476.1 547.4,477.1 545.4,477.1 545.4,475.1 543.8,475.1 543.8,461.8 542.0,461.8 542.0,466.4 540.0,466.4 540.0,463.9 537.5,463.9 537.5,462.3 535.7,462.3 535.7,455.7 533.1,455.7 533.1,455.7 530.8,455.7 530.8,467.9 528.5,467.9 528.5,469.8 526.5,469.8 526.5,468.5 525.0,468.5 525.0,464.9 522.9,464.9 522.9,469.5 520.9,469.5 520.9,467.4 519.3,467.4 519.3,460.3 518.5,460.3 518.5,465.9 516.8,465.9 516.8,475.1 514.8,475.1 514.8,473.6 513.2,473.6 513.2,464.9 511.9,464.9 511.9,465.9 510.1,465.9 510.1,473.3 508.1,473.3 508.1,472.0 506.1,472.0 506.1,475.1 504.6,475.1 504.6,476.6 502.2,476.6 502.2,492.4 500.2,492.4 500.2,490.4 498.8,490.4 498.8,463.9 497.7,463.9 497.7,461.8 496.4,461.8 496.4,456.7 495.1,456.7 495.1,461.8 494.1,461.8 494.1,468.5 492.6,468.5 492.6,470.5 489.9,470.5 489.9,492.6 488.1,492.6 488.1,490.9 486.9,490.9 486.9,468.5 485.7,468.5 485.7,466.4 482.6,466.4 482.6,468.1 480.6,468.1 480.6,457.7 479.3,457.7 479.3,465.9 477.8,465.9 477.8,475.4 475.8,475.4 475.8,473.6 474.0,473.6 474.0,471.0 472.3,471.0 472.3,471.5 470.8,471.5 470.8,475.1 469.0,475.1 469.0,482.4 467.1,482.4 467.1,480.2 465.7,480.2 465.7,466.4 464.5,466.4 464.5,466.9 462.4,466.9 462.4,474.6 460.4,474.6 460.4,472.5 459.0,472.5 459.0,461.8 458.0,461.8 458.0,458.3 456.8,458.3 456.8,471.0 455.7,471.0 455.7,477.6 453.9,477.6 453.9,483.5 451.9,483.5 451.9,482.7 449.0,482.7 449.0,485.5 447.0,485.5 447.0,477.6 445.2,477.6 445.2,461.3 444.5,461.3 444.5,470.0 441.9,470.0 441.9,472.0 439.9,472.0 439.9,467.9 436.6,467.9 436.6,480.7 434.6,480.7 434.6,479.2 433.4,479.2 433.4,469.0 432.4,469.0 432.4,468.5 429.9,468.5 429.9,476.1 427.9,476.1 427.9,474.1 426.8,474.1 426.8,455.7 425.6,455.7 425.6,453.7 423.3,453.7 423.3,455.7 420.5,455.7 420.5,465.9 418.5,465.9 418.5,463.4 415.6,463.4 415.6,462.8 413.1,462.8 413.1,471.5 411.1,471.5 411.1,463.9 408.4,463.9 408.4,476.3 406.4,476.3 406.4,467.4 403.9,467.4 403.9,465.9 402.1,465.9 402.1,456.7 400.3,456.7 400.3,461.3 397.8,461.3 397.8,463.4 395.0,463.4 395.0,475.3 393.2,475.3 393.2,469.0 391.7,469.0 391.7,467.9 390.1,467.9 390.1,458.8 388.3,458.8 388.3,467.4 386.5,467.4 386.5,465.9 385.1,465.9 385.1,458.8 382.7,458.8 382.7,462.3 380.7,462.3 380.7,460.3 376.6,460.3 376.6,469.0 374.4,469.0 374.4,471.0 371.0,471.0 371.0,476.3 369.0,476.3 369.0,465.9 365.1,465.9 365.1,465.4 362.6,465.4 362.6,463.4 360.3,463.4 360.3,465.9 358.8,465.9 358.8,474.1 356.9,474.1 356.9,480.7 354.9,480.7 354.9,474.6 352.8,474.6 352.8,474.1 350.8,474.1 350.8,468.5 349.1,468.5 349.1,469.5 346.7,469.5 346.7,494.7 344.7,494.7 344.7,492.9 343.4,492.9 343.4,465.9 342.1,465.9 342.1,463.9 340.7,463.9 340.7,470.0 339.2,470.0 339.2,471.0 336.6,471.0 336.6,478.4 334.6,478.4 334.6,471.5 331.7,471.5 331.7,471.0 329.5,471.0 329.5,475.1 327.4,475.1 327.4,482.7 325.4,482.7 325.4,480.7 323.7,480.7 323.7,461.8 321.7,461.8 321.7,476.6 319.7,476.6 319.7,471.0 316.9,471.0 316.9,475.1 314.9,475.1 314.9,470.0 312.3,470.0 312.3,464.9 310.9,464.9 310.9,464.9 308.7,464.9 308.7,490.2 306.7,490.2 306.7,488.4 305.2,488.4 305.2,463.9 303.3,463.9 303.3,469.0 301.3,469.0 301.3,468.5 299.3,468.5 299.3,474.1 298.1,474.1 298.1,474.1 297.1,474.1 297.1,478.7 295.8,478.7 295.8,479.0 294.1,479.0 294.1,472.5 292.0,472.5 292.0,471.5 290.3,471.5 290.3,465.4 288.6,465.4 288.6,463.9 286.7,463.9 286.7,479.4 284.7,479.4 284.7,476.6 283.1,476.6 283.1,457.7 281.7,457.7 281.7,456.7 279.3,456.7 279.3,464.9 277.3,464.9 277.3,459.8 275.5,459.8 275.5,472.5 274.3,472.5 274.3,474.6 272.1,474.6 272.1,493.5 270.1,493.5 270.1,490.4 268.7,490.4 268.7,469.5 267.3,469.5 267.3,470.5 265.3,470.5 265.3,468.5 263.5,468.5 263.5,460.8 261.4,460.8 261.4,466.9 259.4,466.9 259.4,464.9 256.6,464.9 256.6,459.8 254.8,459.8 254.8,460.3 253.0,460.3 253.0,462.8 251.2,462.8 251.2,463.4 249.7,463.4 249.7,472.0 247.8,472.0 247.8,488.6 245.8,488.6 245.8,471.0 243.9,471.0 243.9,462.8 242.6,462.8 242.6,462.3 241.0,462.3 241.0,467.9 239.6,467.9 239.6,468.5 237.4,468.5 237.4,473.3 235.4,473.3 235.4,471.0 233.6,471.0 233.6,459.8 232.2,459.8 232.2,464.4 230.3,464.4 230.3,467.4 228.3,467.4 228.3,466.9 225.5,466.9 225.5,479.7 223.5,479.7 223.5,476.1 221.1,476.1 221.1,473.6 219.6,473.6 219.6,467.1 218.1,467.1 218.1,466.4 215.5,466.4 215.5,462.8 213.6,462.8 213.6,474.1 211.9,474.1 211.9,490.4 209.9,490.4 209.9,486.3 208.1,486.3 208.1,469.5 206.1,469.5 206.1,485.3 204.1,485.3 204.1,483.3 202.4,483.3 202.4,467.4 200.4,467.4 200.4,489.9 198.5,489.9 198.5,487.3 197.1,487.3 197.1,470.5 195.6,470.5 195.6,471.0 193.2,471.0 193.2,482.2 191.2,482.2 191.2,476.1 187.7,476.1 187.7,482.2 185.7,482.2 185.7,475.6 182.9,475.6 182.9,465.9 181.0,465.9 181.0,475.1 179.1,475.1 179.1,473.0 177.8,473.0 177.8,461.8 176.2,461.8 176.2,463.4 173.9,463.4 173.9,471.5 171.9,471.5 171.9,468.5 169.8,468.5 169.8,467.9 168.1,467.9 168.1,459.3 166.0,459.3 166.0,459.8 164.5,459.8 164.5,476.1 162.4,476.1 162.4,482.2 160.4,482.2 160.4,476.1 158.9,476.1 158.9,454.7 156.8,454.7 156.8,460.3 154.8,460.3 154.8,456.7 152.5,456.7 152.5,460.3 150.5,460.3 150.5,464.1 147.9,464.1 147.9,463.9 144.9,463.9 144.9,482.7 142.4,482.7" fill="#0000ff" stroke="#0000ff" stroke-width="0.6" stroke-linejoin="round"/>
<path clip-path="url(#ca2)" d="M143.9 435.4V480.9M150.2 435.4V399.6M155.8 435.4V458.5M159.9 435.4V399.6M161.4 435.4V480.4M165.0 435.4V394.0M172.9 435.4V469.7M174.2 435.4V384.3M178.8 435.4V402.7M180.0 435.4V473.3M186.4 435.4V380.5M186.7 435.4V480.4M192.2 435.4V480.4M198.4 435.4V392.8M199.4 435.4V488.1M203.3 435.4V401.6M205.1 435.4V483.5M210.4 435.4V381.5M210.9 435.4V488.6M222.9 435.4V395.0M224.5 435.4V477.9M227.8 435.4V401.1M229.3 435.4V465.6M234.9 435.4V378.9M236.4 435.4V471.5M240.0 435.4V396.5M246.8 435.4V486.8M246.9 435.4V384.3M259.2 435.4V389.7M260.4 435.4V465.1M266.3 435.4V468.7M271.1 435.4V491.7M271.4 435.4V380.2M278.3 435.4V463.1M285.7 435.4V477.6M285.9 435.4V397.9M293.6 435.4V391.1M295.1 435.4V477.2M302.3 435.4V467.2M305.4 435.4V389.4M307.7 435.4V488.4M312.5 435.4V386.0M315.9 435.4V473.3M320.7 435.4V474.8M324.3 435.4V382.2M326.4 435.4V480.9M331.7 435.4V387.3M335.6 435.4V476.6M341.9 435.4V399.6M345.7 435.4V492.9M349.1 435.4V403.0M355.9 435.4V478.9M356.0 435.4V377.4M367.9 435.4V389.4M370.0 435.4V474.5M377.8 435.4V402.3M381.7 435.4V460.5M383.8 435.4V407.2M387.3 435.4V465.6M392.4 435.4V395.8M394.0 435.4V473.5M398.0 435.4V396.8M407.4 435.4V474.5M408.0 435.4V393.0M412.1 435.4V469.7M413.9 435.4V402.7M418.2 435.4V398.1M419.5 435.4V464.1M427.1 435.4V388.1M428.9 435.4V474.3M434.0 435.4V402.1M435.6 435.4V478.9M440.9 435.4V399.3M440.9 435.4V470.2M446.0 435.4V394.2M448.0 435.4V483.7M452.9 435.4V481.7M456.3 435.4V388.4M461.4 435.4V472.8M464.8 435.4V398.1M468.0 435.4V480.6M470.9 435.4V400.9M476.8 435.4V473.6M477.0 435.4V400.3M481.6 435.4V466.3M484.1 435.4V404.7M488.9 435.4V490.8M489.6 435.4V407.2M501.2 435.4V490.6M501.3 435.4V373.1M509.1 435.4V471.5M512.7 435.4V391.4M515.8 435.4V473.3M518.5 435.4V405.7M521.9 435.4V467.7M525.7 435.4V402.3M527.5 435.4V468.0M532.8 435.4V403.4M540.0 435.4V400.6M541.0 435.4V464.6M544.9 435.4V406.4M546.4 435.4V475.3M549.1 435.4V401.6M550.8 435.4V479.4M562.0 435.4V478.4M562.2 435.4V404.7M567.3 435.4V403.2M574.1 435.4V376.8M575.8 435.4V474.1M585.9 435.4V472.8M586.2 435.4V400.6M590.3 435.4V469.7M598.1 435.4V366.4M598.4 435.4V491.7M610.2 435.4V350.6M613.1 435.4V471.2M618.2 435.4V472.3M620.2 435.4V397.0M625.6 435.4V395.0M626.2 435.4V481.2M634.7 435.4V390.4M636.6 435.4V469.0M641.2 435.4V465.6M641.5 435.4V395.2M646.8 435.4V394.2M649.0 435.4V462.9M659.0 435.4V375.4M659.0 435.4V490.6M667.0 435.4V408.8M671.1 435.4V467.7M671.3 435.4V391.4M677.2 435.4V403.7M683.3 435.4V402.3M685.0 435.4V473.5M689.1 435.4V394.2M691.2 435.4V475.5M695.6 435.4V378.2M702.1 435.4V400.6M707.5 435.4V391.7M709.0 435.4V461.6M715.7 435.4V470.2M720.2 435.4V473.8M724.1 435.4V397.5M725.1 435.4V481.5M731.7 435.4V387.3M732.3 435.4V481.2M737.8 435.4V475.5M743.5 435.4V477.9M743.9 435.4V375.4M755.8 435.4V389.4M756.7 435.4V481.5M761.1 435.4V391.7M764.1 435.4V460.5M768.0 435.4V377.9M775.7 435.4V398.3M780.0 435.4V388.4M780.2 435.4V481.2M785.6 435.4V474.3M789.0 435.4V403.2M790.4 435.4V481.7" fill="none" stroke="#0000ff" stroke-width="4.2" stroke-linecap="round"/>
</g>
<g id="b1">
<clipPath id="cb1"><rect x="940.50" y="40.60" width="638.40" height="192.85"/></clipPath>
<rect x="943.00" y="41.60" width="633.40" height="191.05" fill="none" stroke="#262626" stroke-width="1.5"/>
<path d="M943.00 232.65v-6.5M943.00 41.60v6.5M1048.57 232.65v-6.5M1048.57 41.60v6.5M1154.13 232.65v-6.5M1154.13 41.60v6.5M1259.70 232.65v-6.5M1259.70 41.60v6.5M1365.27 232.65v-6.5M1365.27 41.60v6.5M1470.83 232.65v-6.5M1470.83 41.60v6.5M1576.40 232.65v-6.5M1576.40 41.60v6.5M943.00 232.65h6.5M1576.40 232.65h-6.5M943.00 139.48h6.5M1576.40 139.48h-6.5M943.00 46.31h6.5M1576.40 46.31h-6.5" stroke="#262626" stroke-width="1.5" fill="none"/>
<text x="943.00" y="275.30" font-size="33.33" text-anchor="middle">0</text>
<text x="1048.57" y="275.30" font-size="33.33" text-anchor="middle">50</text>
<text x="1154.13" y="275.30" font-size="33.33" text-anchor="middle">100</text>
<text x="1259.70" y="275.30" font-size="33.33" text-anchor="middle">150</text>
<text x="1365.27" y="275.30" font-size="33.33" text-anchor="middle">200</text>
<text x="1470.83" y="275.30" font-size="33.33" text-anchor="middle">250</text>
<text x="1576.40" y="275.30" font-size="33.33" text-anchor="middle">300</text>
<text x="930.00" y="243.65" font-size="33.33" text-anchor="end">0</text>
<text x="930.00" y="150.48" font-size="33.33" text-anchor="end">0.02</text>
<text x="930.00" y="57.31" font-size="33.33" text-anchor="end">0.04</text>
<text x="1259.10" y="321.35" font-size="36.67" text-anchor="middle">Frequency [Hz]</text>
<text transform="translate(854.20 139.12) rotate(-90)" font-size="36.4" text-anchor="middle">Amplitude [g]</text>
<polyline clip-path="url(#cb1)" points="943.0,232.3 945.1,212.9 947.2,193.0 949.3,221.5 951.4,158.0 953.6,105.3 955.7,208.3 957.8,212.3 959.9,213.7 962.0,203.7 964.1,190.4 966.2,178.4 968.3,199.1 970.4,219.5 972.6,205.7 974.7,193.0 976.8,206.7 978.9,199.1 981.0,213.4 983.1,227.7 985.2,206.2 987.3,185.1 989.4,215.9 991.6,207.8 993.7,202.1 995.8,213.4 997.9,187.3 1000.0,157.2 1002.1,209.8 1004.2,213.9 1006.3,214.9 1008.5,216.7 1010.6,159.8 1012.7,214.7 1014.8,201.6 1016.9,212.9 1019.0,203.7 1021.1,202.3 1023.2,208.3 1025.3,209.8 1027.5,214.9 1029.6,224.6 1031.7,218.0 1033.8,215.4 1035.9,228.7 1038.0,221.5 1040.1,219.0 1042.2,216.4 1044.3,215.4 1046.5,220.5 1048.6,218.5 1050.7,227.1 1052.8,211.8 1054.9,214.9 1057.0,202.1 1059.1,206.7 1061.2,224.6 1063.3,225.1 1065.5,226.1 1067.6,212.9 1069.7,209.8 1071.8,222.0 1073.9,220.0 1076.0,224.6 1078.1,209.3 1080.2,222.0 1082.3,221.0 1084.5,212.9 1086.6,215.4 1088.7,213.4 1090.8,214.9 1092.9,223.6 1095.0,223.1 1097.1,210.8 1099.2,196.5 1101.3,202.7 1103.5,219.0 1105.6,218.0 1107.7,219.5 1109.8,200.6 1111.9,171.6 1114.0,203.7 1116.1,226.6 1118.2,214.9 1120.4,205.2 1122.5,210.5 1124.6,210.5 1126.7,204.9 1128.8,231.0 1130.9,219.0 1133.0,202.7 1135.1,201.1 1137.2,200.4 1139.4,230.4 1141.5,214.9 1143.6,227.7 1145.7,187.3 1147.8,203.7 1149.9,212.3 1152.0,196.0 1154.1,197.0 1156.2,212.9 1158.4,223.9 1160.5,196.0 1162.6,216.9 1164.7,215.9 1166.8,200.6 1168.9,189.9 1171.0,210.8 1173.1,225.1 1175.2,203.7 1177.4,207.8 1179.5,172.6 1181.6,215.4 1183.7,201.1 1185.8,228.2 1187.9,205.7 1190.0,173.8 1192.1,193.5 1194.2,200.6 1196.4,219.0 1198.5,222.6 1200.6,210.8 1202.7,208.0 1204.8,210.8 1206.9,197.0 1209.0,223.9 1211.1,203.7 1213.3,182.8 1215.4,197.6 1217.5,217.8 1219.6,201.6 1221.7,218.8 1223.8,186.3 1225.9,221.5 1228.0,179.2 1230.1,183.3 1232.3,178.2 1234.4,199.6 1236.5,199.1 1238.6,203.7 1240.7,204.7 1242.8,221.0 1244.9,207.8 1247.0,205.7 1249.1,210.8 1251.3,213.4 1253.4,200.6 1255.5,183.3 1257.6,205.7 1259.7,218.0 1261.8,195.5 1263.9,183.1 1266.0,223.6 1268.1,205.7 1270.3,212.9 1272.4,209.8 1274.5,205.7 1276.6,220.5 1278.7,210.8 1280.8,195.5 1282.9,185.1 1285.0,188.9 1287.1,210.8 1289.3,231.0 1291.4,181.7 1293.5,198.6 1295.6,219.0 1297.7,231.4 1299.8,210.8 1301.9,187.3 1304.0,196.5 1306.1,210.8 1308.3,218.0 1310.4,218.8 1312.5,200.6 1314.6,198.1 1316.7,226.9 1318.8,219.0 1320.9,211.8 1323.0,213.9 1325.2,176.1 1327.3,210.8 1329.4,224.3 1331.5,221.0 1333.6,113.5 1335.7,213.9 1337.8,214.9 1339.9,198.1 1342.0,219.5 1344.2,199.6 1346.3,209.8 1348.4,208.8 1350.5,206.5 1352.6,221.0 1354.7,222.6 1356.8,215.9 1358.9,223.9 1361.0,205.9 1363.2,215.9 1365.3,224.6 1367.4,210.5 1369.5,210.5 1371.6,214.9 1373.7,221.0 1375.8,222.6 1377.9,223.6 1380.0,199.1 1382.2,206.7 1384.3,213.9 1386.4,216.4 1388.5,193.0 1390.6,200.6 1392.7,211.8 1394.8,195.0 1396.9,210.8 1399.0,231.4 1401.2,208.8 1403.3,223.6 1405.4,215.9 1407.5,213.4 1409.6,220.5 1411.7,210.3 1413.8,218.5 1415.9,145.8 1418.0,213.9 1420.2,224.1 1422.3,223.1 1424.4,201.1 1426.5,216.4 1428.6,209.3 1430.7,215.9 1432.8,227.1 1434.9,210.8 1437.1,199.6 1439.2,196.5 1441.3,223.6 1443.4,218.0 1445.5,224.6 1447.6,200.6 1449.7,184.1 1451.8,208.8 1453.9,220.5 1456.1,195.5 1458.2,219.5 1460.3,160.8 1462.4,212.9 1464.5,225.6 1466.6,213.9 1468.7,209.3 1470.8,200.6 1472.9,190.9 1475.1,205.7 1477.2,231.4 1479.3,202.7 1481.4,229.0 1483.5,210.8 1485.6,193.5 1487.7,186.1 1489.8,205.7 1491.9,225.6 1494.1,210.8 1496.2,195.5 1498.3,188.4 1500.4,203.7 1502.5,202.7 1504.6,212.3 1506.7,212.9 1508.8,210.8 1510.9,224.1 1513.1,229.0 1515.2,181.2 1517.3,200.6 1519.4,213.9 1521.5,218.0 1523.6,230.9 1525.7,194.0 1527.8,205.7 1529.9,212.9 1532.1,219.0 1534.2,223.9 1536.3,209.8 1538.4,221.5 1540.5,204.2 1542.6,218.5 1544.7,219.5 1546.8,202.1 1549.0,198.6 1551.1,201.6 1553.2,215.9 1555.3,230.7 1557.4,164.8 1559.5,220.5 1561.6,204.7 1563.7,210.8 1565.8,195.5 1568.0,177.0 1570.1,185.0 1572.2,222.0 1574.3,220.0 1576.4,214.5" fill="none" stroke="#0000ff" stroke-width="4.2" stroke-linejoin="round" stroke-linecap="round"/>
</g>
<g id="b2">
<clipPath id="cb2"><rect x="940.50" y="338.90" width="638.40" height="192.70"/></clipPath>
<rect x="943.00" y="339.90" width="633.40" height="190.90" fill="none" stroke="#262626" stroke-width="1.5"/>
<path d="M943.00 530.80v-6.5M943.00 339.90v6.5M1048.57 530.80v-6.5M1048.57 339.90v6.5M1154.13 530.80v-6.5M1154.13 339.90v6.5M1259.70 530.80v-6.5M1259.70 339.90v6.5M1365.27 530.80v-6.5M1365.27 339.90v6.5M1470.83 530.80v-6.5M1470.83 339.90v6.5M1576.40 530.80v-6.5M1576.40 339.90v6.5M943.00 530.80h6.5M1576.40 530.80h-6.5M943.00 456.38h6.5M1576.40 456.38h-6.5M943.00 381.95h6.5M1576.40 381.95h-6.5" stroke="#262626" stroke-width="1.5" fill="none"/>
<text x="943.00" y="573.45" font-size="33.33" text-anchor="middle">0</text>
<text x="1048.57" y="573.45" font-size="33.33" text-anchor="middle">50</text>
<text x="1154.13" y="573.45" font-size="33.33" text-anchor="middle">100</text>
<text x="1259.70" y="573.45" font-size="33.33" text-anchor="middle">150</text>
<text x="1365.27" y="573.45" font-size="33.33" text-anchor="middle">200</text>
<text x="1470.83" y="573.45" font-size="33.33" text-anchor="middle">250</text>
<text x="1576.40" y="573.45" font-size="33.33" text-anchor="middle">300</text>
<text x="930.00" y="541.80" font-size="33.33" text-anchor="end">0</text>
<text x="930.00" y="467.38" font-size="33.33" text-anchor="end">0.01</text>
<text x="930.00" y="392.95" font-size="33.33" text-anchor="end">0.02</text>
<text x="1259.10" y="619.50" font-size="36.67" text-anchor="middle">Frequency [Hz]</text>
<text transform="translate(854.20 437.35) rotate(-90)" font-size="36.4" text-anchor="middle">Amplitude [g]</text>
<polyline clip-path="url(#cb2)" points="943.0,529.0 945.1,403.3 947.2,516.0 949.3,508.8 951.4,468.0 953.6,406.5 955.7,442.0 957.8,519.5 959.9,494.0 962.0,507.8 964.1,507.8 966.2,485.0 968.3,468.5 970.4,494.0 972.6,498.6 974.7,500.7 976.8,469.4 978.9,517.0 981.0,427.4 983.1,468.0 985.2,490.0 987.3,510.9 989.4,455.6 991.6,487.0 993.7,456.6 995.8,511.4 997.9,514.7 1000.0,517.0 1002.1,498.6 1004.2,493.0 1006.3,505.8 1008.5,516.5 1010.6,460.2 1012.7,485.0 1014.8,464.3 1016.9,510.3 1019.0,511.9 1021.1,518.0 1023.2,487.4 1025.3,495.6 1027.5,461.7 1029.6,498.6 1031.7,523.1 1033.8,501.2 1035.9,514.9 1038.0,514.4 1040.1,501.7 1042.2,485.9 1044.3,513.9 1046.5,510.9 1048.6,488.4 1050.7,478.2 1052.8,471.0 1054.9,466.3 1057.0,492.0 1059.1,487.9 1061.2,507.3 1063.3,508.3 1065.5,520.0 1067.6,503.7 1069.7,490.0 1071.8,491.5 1073.9,516.0 1076.0,468.0 1078.1,417.3 1080.2,506.0 1082.3,519.0 1084.5,500.7 1086.6,478.2 1088.7,498.6 1090.8,508.8 1092.9,511.4 1095.0,487.4 1097.1,508.8 1099.2,521.1 1101.3,524.6 1103.5,488.4 1105.6,489.9 1107.7,478.2 1109.8,529.5 1111.9,499.6 1114.0,510.9 1116.1,521.1 1118.2,504.2 1120.4,519.5 1122.5,493.5 1124.6,485.3 1126.7,482.3 1128.8,521.6 1130.9,513.9 1133.0,513.9 1135.1,470.0 1137.2,455.6 1139.4,513.4 1141.5,491.0 1143.6,513.1 1145.7,503.7 1147.8,496.1 1149.9,509.6 1152.0,494.5 1154.1,507.6 1156.2,506.8 1158.4,476.4 1160.5,496.6 1162.6,515.8 1164.7,505.2 1166.8,498.6 1168.9,466.1 1171.0,498.6 1173.1,522.1 1175.2,487.9 1177.4,523.9 1179.5,503.7 1181.6,488.2 1183.7,492.5 1185.8,495.6 1187.9,523.3 1190.0,511.9 1192.1,506.8 1194.2,503.7 1196.4,502.2 1198.5,529.2 1200.6,504.7 1202.7,502.5 1204.8,522.6 1206.9,489.9 1209.0,506.8 1211.1,506.8 1213.3,463.1 1215.4,507.3 1217.5,493.5 1219.6,496.6 1221.7,492.5 1223.8,485.3 1225.9,482.3 1228.0,512.9 1230.1,481.8 1232.3,501.7 1234.4,513.9 1236.5,495.0 1238.6,512.9 1240.7,516.0 1242.8,525.7 1244.9,498.6 1247.0,473.6 1249.1,486.4 1251.3,493.5 1253.4,491.3 1255.5,499.4 1257.6,493.5 1259.7,488.4 1261.8,501.7 1263.9,504.7 1266.0,507.8 1268.1,509.6 1270.3,488.9 1272.4,485.3 1274.5,478.2 1276.6,513.4 1278.7,493.5 1280.8,468.5 1282.9,508.6 1285.0,483.3 1287.1,471.5 1289.3,487.4 1291.4,481.3 1293.5,481.8 1295.6,478.2 1297.7,488.4 1299.8,498.6 1301.9,513.9 1304.0,518.0 1306.1,496.6 1308.3,502.7 1310.4,487.4 1312.5,505.2 1314.6,464.6 1316.7,518.5 1318.8,516.0 1320.9,503.7 1323.0,494.0 1325.2,496.1 1327.3,493.5 1329.4,518.5 1331.5,510.9 1333.6,520.0 1335.7,493.5 1337.8,475.7 1339.9,508.8 1342.0,493.5 1344.2,507.3 1346.3,488.4 1348.4,492.5 1350.5,492.5 1352.6,516.0 1354.7,488.4 1356.8,518.5 1358.9,493.0 1361.0,518.5 1363.2,493.5 1365.3,519.0 1367.4,511.9 1369.5,525.1 1371.6,473.0 1373.7,517.0 1375.8,506.8 1377.9,520.0 1380.0,494.0 1382.2,498.6 1384.3,492.5 1386.4,511.9 1388.5,514.9 1390.6,493.5 1392.7,485.3 1394.8,481.1 1396.9,515.4 1399.0,501.7 1401.2,494.5 1403.3,507.3 1405.4,503.2 1407.5,499.6 1409.6,509.8 1411.7,510.9 1413.8,516.0 1415.9,494.5 1418.0,511.4 1420.2,511.4 1422.3,501.7 1424.4,492.3 1426.5,508.8 1428.6,526.2 1430.7,485.3 1432.8,508.8 1434.9,523.1 1437.1,488.9 1439.2,528.9 1441.3,502.7 1443.4,511.9 1445.5,513.7 1447.6,498.6 1449.7,482.0 1451.8,516.5 1453.9,504.2 1456.1,521.6 1458.2,517.0 1460.3,485.6 1462.4,498.6 1464.5,513.9 1466.6,525.7 1468.7,501.2 1470.8,514.4 1472.9,489.2 1475.1,510.3 1477.2,496.4 1479.3,507.8 1481.4,508.8 1483.5,513.1 1485.6,505.2 1487.7,524.1 1489.8,509.8 1491.9,511.9 1494.1,523.6 1496.2,505.8 1498.3,519.5 1500.4,498.1 1502.5,503.5 1504.6,493.5 1506.7,495.6 1508.8,484.7 1510.9,499.1 1513.1,462.5 1515.2,483.3 1517.3,503.7 1519.4,513.4 1521.5,496.1 1523.6,529.2 1525.7,501.2 1527.8,529.2 1529.9,513.9 1532.1,505.2 1534.2,526.2 1536.3,503.2 1538.4,503.7 1540.5,513.7 1542.6,488.4 1544.7,500.1 1546.8,493.5 1549.0,509.3 1551.1,480.5 1553.2,517.0 1555.3,517.0 1557.4,505.8 1559.5,510.9 1561.6,505.8 1563.7,505.8 1565.8,489.5 1568.0,510.0 1570.1,517.0 1572.2,519.0 1574.3,502.3 1576.4,521.0" fill="none" stroke="#0000ff" stroke-width="4.2" stroke-linejoin="round" stroke-linecap="round"/>
</g>
</g>
<g fill="#000" stroke="#000" stroke-width="0.5">
<text x="52.85" y="25.7" font-size="38.5">(a)</text>
<text x="835.5" y="25.7" font-size="38.5">(b)</text>
<text transform="translate(28.6 134.3) rotate(-90)" font-size="43.33" fill="#000" text-anchor="middle">CH #1</text>
<text transform="translate(28.6 429.3) rotate(-90)" font-size="43.33" fill="#000" text-anchor="middle">CH #2</text>
</g>
</svg>
</body></html>
